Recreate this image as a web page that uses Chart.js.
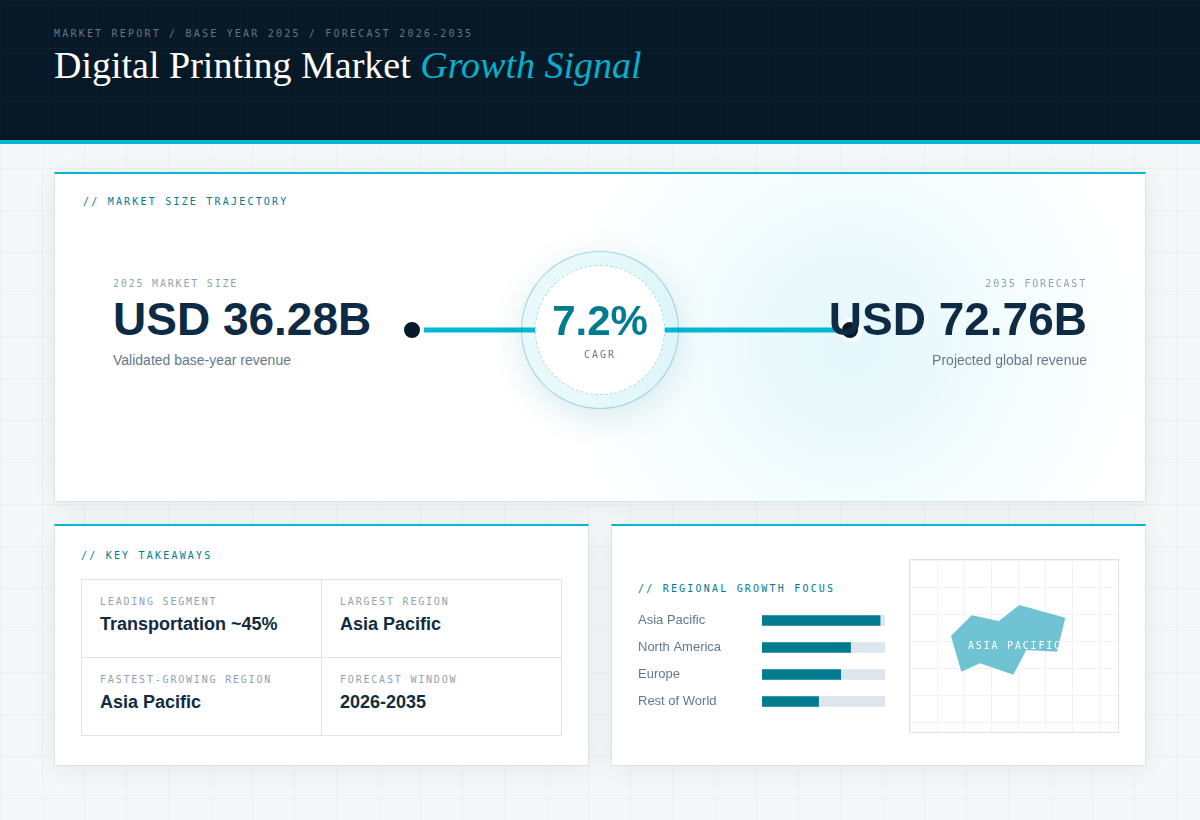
<!DOCTYPE html>
<html>
<head>
<meta charset="utf-8">
<title>Digital Printing Market Growth Signal</title>
<script src="https://cdn.jsdelivr.net/npm/chart.js@4/dist/chart.umd.min.js"></script>
<style>
  * { box-sizing: border-box; margin: 0; padding: 0; }
  html, body { width: 1200px; height: 820px; overflow: hidden; }
  body {
    position: relative;
    font-family: "Liberation Sans", Arial, sans-serif;
    background-color: #f5f8f9;
    background-image:
      linear-gradient(rgba(7, 25, 40, 0.03) 1px, transparent 1px),
      linear-gradient(90deg, rgba(7, 25, 40, 0.03) 1px, transparent 1px);
    background-size: 42px 42px;
  }
  .mono { font-family: "DejaVu Sans Mono", monospace; font-size: 10px; }
  header {
    position: absolute; left: 0; top: 0; width: 1200px; height: 144px;
    background-color: #071927;
    background-image:
      linear-gradient(rgba(120, 180, 210, 0.035) 1px, transparent 1px),
      linear-gradient(90deg, rgba(120, 180, 210, 0.035) 1px, transparent 1px);
    background-size: 48px 48px;
    border-bottom: 4px solid #00b8d4;
  }
  .eyebrow { position: absolute; left: 54px; top: 28px; color: #66757f; letter-spacing: 2.2px; white-space: nowrap; }
  h1 { position: absolute; left: 54px; top: 43px; font: 400 38px "Liberation Serif", serif; color: #fff; white-space: nowrap; }
  h1 em { color: #06b0cc; font-style: italic; }
  .card {
    position: absolute; background: #fff; border: 1px solid #dde4e9; border-top: 2px solid #00b8d4;
    box-shadow: 0 4px 24px rgba(7, 25, 40, 0.07); overflow: hidden;
  }
  .card-title { position: absolute; color: #007b8f; letter-spacing: 2.2px; white-space: nowrap; }
  #trajectory { left: 54px; top: 172px; width: 1092px; height: 330px; }
  .glow {
    position: absolute; left: 496px; top: -130px; width: 600px; height: 600px; border-radius: 50%;
    background: radial-gradient(circle, rgba(0, 184, 212, 0.11) 0%, rgba(0, 184, 212, 0.045) 40%, rgba(0, 184, 212, 0) 70%);
  }
  #trajectory .card-title { left: 28px; top: 22px; }
  #lineBox { position: absolute; left: 337px; top: 136px; width: 478px; height: 40px; }
  .stat { position: absolute; top: 104px; }
  .stat.left { left: 58px; }
  .stat.right { right: 58px; text-align: right; }
  .stat-label { color: #8fa3b0; letter-spacing: 1.8px; white-space: nowrap; line-height: 12px; }
  .stat-value { font-size: 46px; font-weight: 700; color: #0d2b45; line-height: 54px; margin-top: 2px; white-space: nowrap; }
  .stat-sub { font-size: 14px; color: #64788a; line-height: 18px; margin-top: 5px; white-space: nowrap; }
  .ring {
    position: absolute; left: 466px; top: 77px; width: 158px; height: 158px; border-radius: 50%;
    background: rgba(0, 184, 212, 0.09); border: 1px solid rgba(0, 123, 143, 0.3);
    box-shadow: 0 8px 32px rgba(0, 123, 143, 0.15);
  }
  .ring-in {
    position: absolute; left: 13px; top: 13px; width: 130px; height: 130px; border-radius: 50%;
    background: #fff; border: 1px dashed rgba(0, 150, 170, 0.35); text-align: center;
  }
  .cagr { font-size: 42px; font-weight: 700; color: #007b8f; line-height: 50px; margin-top: 30px; }
  .cagr-label { color: #64788a; letter-spacing: 2px; line-height: 12px; margin-top: 3px; }
  #takeaways { left: 54px; top: 524px; width: 535px; height: 242px; }
  #takeaways .card-title { left: 26px; top: 24px; }
  .grid { position: absolute; left: 26px; top: 53px; width: 481px; height: 157px; border: 1px solid #dfe4e8; }
  .cell { position: absolute; width: 240px; height: 78px; padding: 16px 18px; }
  .cell .stat-label { line-height: 12px; }
  .cell b { display: block; font-size: 18px; color: #122b42; line-height: 22px; margin-top: 5px; white-space: nowrap; }
  #regional { left: 611px; top: 524px; width: 535px; height: 242px; }
  #regional .card-title { left: 26px; top: 57px; }
  #barBox { position: absolute; left: 26px; top: 81px; width: 247px; height: 108px; }
  #mapFrame { position: absolute; left: 297px; top: 33px; width: 210px; height: 174px; border: 1px solid #dde4e9; background: #fff; }
  #mapBox { position: absolute; left: 0; top: 0; width: 208px; height: 172px; }
  .map-label { position: absolute; left: 58px; top: 80px; color: #fff; letter-spacing: 1.8px; white-space: nowrap; }
</style>
</head>
<body>
<header>
  <div class="eyebrow mono">MARKET REPORT / BASE YEAR 2025 / FORECAST 2026-2035</div>
  <h1>Digital Printing Market <em>Growth Signal</em></h1>
</header>

<section class="card" id="trajectory">
  <div class="glow"></div>
  <div class="card-title mono">// MARKET SIZE TRAJECTORY</div>
  <div id="lineBox"><canvas id="lineChart"></canvas></div>
  <div class="stat left">
    <div class="stat-label mono">2025 MARKET SIZE</div>
    <div class="stat-value">USD 36.28B</div>
    <div class="stat-sub">Validated base-year revenue</div>
  </div>
  <div class="ring"><div class="ring-in">
    <div class="cagr">7.2%</div>
    <div class="cagr-label mono">CAGR</div>
  </div></div>
  <div class="stat right">
    <div class="stat-label mono">2035 FORECAST</div>
    <div class="stat-value">USD 72.76B</div>
    <div class="stat-sub">Projected global revenue</div>
  </div>
</section>

<section class="card" id="takeaways">
  <div class="card-title mono">// KEY TAKEAWAYS</div>
  <div class="grid">
    <div class="cell" style="left:0;top:0;border-right:1px solid #dfe4e8;border-bottom:1px solid #dfe4e8">
      <div class="stat-label mono">LEADING SEGMENT</div><b>Transportation ~45%</b></div>
    <div class="cell" style="left:240px;top:0;border-bottom:1px solid #dfe4e8">
      <div class="stat-label mono">LARGEST REGION</div><b>Asia Pacific</b></div>
    <div class="cell" style="left:0;top:78px;border-right:1px solid #dfe4e8">
      <div class="stat-label mono">FASTEST-GROWING REGION</div><b>Asia Pacific</b></div>
    <div class="cell" style="left:240px;top:78px">
      <div class="stat-label mono">FORECAST WINDOW</div><b>2026-2035</b></div>
  </div>
</section>

<section class="card" id="regional">
  <div class="card-title mono">// REGIONAL GROWTH FOCUS</div>
  <div id="barBox"><canvas id="barChart"></canvas></div>
  <div id="mapFrame">
    <div id="mapBox"><canvas id="mapChart"></canvas></div>
    <div class="map-label mono">ASIA PACIFIC</div>
  </div>
</section>

<script>
const years = [2025, 2035];
const trackLevel = [0, 0];

const regions = ["Asia Pacific", "North America", "Europe", "Rest of World"];
const regionValues = [96, 72, 64, 46];
const regionTrack = [100, 100, 100, 100];

const mapX = [41, 61.7, 89, 109.3, 155.3, 147, 116.3, 103.3, 70, 51.3, 41];
const mapY = [76, 55.3, 61, 45, 57.7, 91.7, 90, 114.7, 103.3, 111.7, 76];

Chart.defaults.animation = false;
Chart.defaults.responsive = true;
Chart.defaults.maintainAspectRatio = false;
Chart.defaults.plugins.legend.display = false;
Chart.defaults.plugins.tooltip.enabled = false;

new Chart(document.getElementById("lineChart"), {
  type: "scatter",
  data: {
    datasets: [
      {
        data: years.map((y, i) => ({ x: y, y: trackLevel[i] })),
        showLine: true,
        borderColor: "#00b8d4",
        borderWidth: 5,
        pointRadius: 10,
        pointBorderWidth: 4,
        pointBorderColor: "#fff",
        pointBackgroundColor: "#071a28",
        clip: false,
      },
    ],
  },
  options: {
    layout: { padding: { left: 20, right: 20, top: 0, bottom: 0 } },
    scales: {
      x: { display: false, min: years[0], max: years[1] },
      y: { display: false, min: -1, max: 1 },
    },
  },
});

new Chart(document.getElementById("barChart"), {
  type: "bar",
  data: {
    labels: regions,
    datasets: [
      { data: regionValues, backgroundColor: "#007b8f", barThickness: 10, grouped: false, order: 1 },
      { data: regionTrack, backgroundColor: "#dde6ed", barThickness: 10, grouped: false, order: 2 },
    ],
  },
  options: {
    indexAxis: "y",
    layout: { padding: 0 },
    scales: {
      x: { display: false, min: 0, max: 100 },
      y: {
        afterFit: (axis) => {
          axis.width = 124;
          // labels keep the top and bottom rows off the canvas edges otherwise
          axis.paddingTop = 0;
          axis.paddingBottom = 0;
        },
        border: { display: false },
        grid: { display: false },
        ticks: {
          crossAlign: "far",
          color: "#64788a",
          font: { family: "Liberation Sans", size: 13 },
        },
      },
    },
  },
});

new Chart(document.getElementById("mapChart"), {
  type: "scatter",
  data: {
    datasets: [
      {
        data: mapX.map((x, i) => ({ x: x, y: mapY[i] })),
        showLine: true,
        tension: 0,
        fill: "shape",
        backgroundColor: "#6fc3d2",
        borderWidth: 0,
        pointRadius: 0,
      },
    ],
  },
  options: {
    layout: { padding: 0 },
    scales: {
      x: {
        min: 0, max: 208,
        border: { display: false },
        grid: { color: "#f0f3f5", drawTicks: false },
        ticks: { display: false, stepSize: 27, padding: 0, includeBounds: false, autoSkip: false },
      },
      y: {
        reverse: true, min: 0, max: 172,
        border: { display: false },
        grid: { color: "#f0f3f5", drawTicks: false },
        ticks: { display: false, stepSize: 27, padding: 0, includeBounds: false, autoSkip: false },
      },
    },
  },
});
</script>
</body>
</html>
